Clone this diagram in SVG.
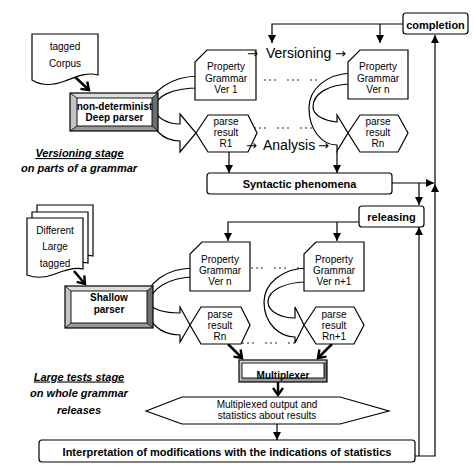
<svg xmlns="http://www.w3.org/2000/svg" width="474" height="466" viewBox="0 0 474 466">
<style>
.n{fill:#fff;stroke:#000;stroke-width:1.2}
.t{font-family:"Liberation Sans",Arial,sans-serif;font-size:10px;text-anchor:middle;fill:#000}
.b{font-weight:bold;font-size:11px}
.bi{font-family:"Liberation Sans",Arial,sans-serif;font-weight:bold;font-style:italic;font-size:11px;text-anchor:middle;fill:#000}
.big{font-family:"Liberation Sans",Arial,sans-serif;font-size:14px;fill:#000}
.ar{font-family:"DejaVu Sans",sans-serif;font-size:13px;fill:#000}
.c{fill:none;stroke:#000;stroke-width:1.2}
.d{fill:none;stroke:#000;stroke-width:1.6;stroke-linecap:round;stroke-dasharray:0 5 0 5 0 13}
.k{fill:none;stroke:#000;stroke-width:2.5}
.lt{fill:#dcdcdc}.ll{fill:#c4c4c4}.lr{fill:#6e6e6e}.lb{fill:#999}
.e{fill:none;stroke:#000;stroke-width:0.8}
</style>
<defs>
<marker id="ah" markerUnits="userSpaceOnUse" markerWidth="9" markerHeight="9" refX="8" refY="4" orient="auto"><path d="M0,0 L8,4 L0,8 z" fill="#000"/></marker>
<marker id="ch" markerUnits="userSpaceOnUse" markerWidth="12" markerHeight="14" refX="8" refY="6" orient="auto"><path d="M1,1 L8,6 L1,11" fill="none" stroke="#000" stroke-width="2.4"/></marker>
<clipPath id="clipDoc"><rect x="20" y="200" width="80" height="69"/></clipPath>
</defs>

<g id="connectors">
  <line class="d" x1="265" y1="80" x2="320" y2="80"/>
  <line class="d" x1="255" y1="128" x2="312" y2="128"/>
  <line class="d" x1="252" y1="268" x2="300" y2="268"/>
  <line class="d" x1="243" y1="343" x2="295" y2="343"/>
  <path class="c" d="M403,24 H272 V43" marker-end="url(#ah)"/>
  <path class="c" d="M380,24 V43" marker-end="url(#ah)"/>
  <path class="c" d="M415,456 H435 V184" marker-end="url(#ah)"/>
  <path class="c" d="M435,184 V35" marker-end="url(#ah)"/>
  <path class="c" d="M392,183 H434" marker-end="url(#ah)"/>
  <path class="c" d="M419,183 V205" marker-end="url(#ah)"/>
  <path class="c" d="M419,456 V227" marker-end="url(#ah)"/>
  <path class="c" d="M359,222 H228 V241" marker-end="url(#ah)"/>
  <path class="c" d="M337,222 V241" marker-end="url(#ah)"/>
  <path class="c" d="M229,152 V173" marker-end="url(#ah)"/>
  <path class="c" d="M337,151 V173" marker-end="url(#ah)"/>
  <path class="k" d="M75,77 L89,90" marker-end="url(#ch)"/>
  <path class="k" d="M74,271 L85,284" marker-end="url(#ch)"/>
  <path class="k" d="M228,344 L242,358" marker-end="url(#ch)"/>
  <path class="k" d="M332,344 L318,358" marker-end="url(#ch)"/>
  <path class="k" d="M278,382 V395" marker-end="url(#ch)"/>
  <path class="c" d="M277,424 V440" marker-end="url(#ah)"/>
  <path class="n" d="M200,76 C170,76 150,92 150,108 C150,128 162,141 180,141 L180,152 L196,133 L180,114 L180,124 C168,124 155,118 155,108 C155,97 170,88 200,88 Z"/>
  <path class="n" d="M352,73 C325,74 309,90 309,108 C309,130 322,145 337,145 L337,151 L348,133 L337,115 L337,122 C326,121 313,116 313,107 C313,94 328,84 352,84 Z"/>
  <path class="n" d="M195,268 C165,268 146,284 146,302 C146,322 160,335 180,335 L180,342 L190,325 L180,307 L180,313 C166,313 150,310 150,302 C150,290 168,277 195,277 Z"/>
  <path class="n" d="M308,268 C282,268 264,284 264,302 C264,324 280,337 295,337 L295,343 L304,325 L295,307 L295,318 C282,318 268,312 268,302 C268,290 285,282 308,282 Z"/>
</g>

<g id="corpus">
  <path class="n" d="M32,34 H98 V75 C88,72 78,76 65,81 C52,86 40,85 32,80 Z"/>
  <text class="t" x="65" y="50">tagged</text>
  <text class="t" x="65" y="67">Corpus</text>
</g>

<g id="deep-parser">
  <rect x="70" y="93" width="88" height="38" fill="#fff"/>
  <polygon class="lt" points="70,93 158,93 152,98 77,98"/>
  <polygon class="ll" points="70,93 77,98 77,126 70,131"/>
  <polygon class="lr" points="158,93 158,131 152,126 152,98"/>
  <polygon class="lb" points="70,131 158,131 152,126 77,126"/>
  <path class="e" d="M70,93 L77,98 M158,93 L152,98 M70,131 L77,126 M158,131 L152,126"/>
  <rect x="77" y="98" width="75" height="28" fill="#fff" stroke="#000" stroke-width="0.9"/>
  <rect x="70" y="93" width="88" height="38" fill="none" stroke="#000" stroke-width="1.2"/>
  <text class="t" font-weight="bold" x="114.5" y="109.5">non-determinist</text>
  <text class="t" font-weight="bold" x="114.5" y="120.5">Deep parser</text>
</g>

<g id="pg-ver1">
  <polygon class="n" points="207,50 256,50 256,100 195,100 195,62"/>
  <text class="t" x="226" y="69.5">Property</text>
  <text class="t" x="226" y="81.5">Grammar</text>
  <text class="t" x="226" y="93">Ver 1</text>
</g>
<g id="pg-vern">
  <polygon class="n" points="360,50 408,50 408,99 348,99 348,62"/>
  <text class="t" x="378" y="69.5">Property</text>
  <text class="t" x="378" y="81.5">Grammar</text>
  <text class="t" x="378" y="93">Ver n</text>
</g>
<g id="pr-r1">
  <polygon class="n" points="196,133 208,115 248,115 257,133 248,152 208,152"/>
  <text class="t" x="226" y="125">parse</text>
  <text class="t" x="226" y="136">result</text>
  <text class="t" x="226" y="147">R1</text>
</g>
<g id="pr-rn">
  <polygon class="n" points="348,133 360,115 398,115 408,133 398,152 360,152"/>
  <text class="t" x="378" y="125">parse</text>
  <text class="t" x="378" y="136">result</text>
  <text class="t" x="378" y="147">Rn</text>
</g>

<g id="stage-labels">
  <text class="ar" x="247" y="58">→</text>
  <text class="big" x="266" y="58">Versioning</text>
  <text class="ar" x="335" y="58">→</text>
  <text class="ar" x="246" y="150">→</text>
  <text class="big" x="263" y="150">Analysis</text>
  <text class="ar" x="318" y="150">→</text>
</g>

<g id="completion">
  <rect class="n" x="403" y="13" width="65" height="21" rx="3"/>
  <text class="t b" x="435.5" y="28.5">completion</text>
</g>
<g id="syntactic">
  <rect class="n" x="207" y="173" width="185" height="21" rx="3"/>
  <text class="t b" x="299.5" y="188">Syntactic phenomena</text>
</g>
<g id="releasing">
  <rect class="n" x="359" y="206" width="65" height="21" rx="3"/>
  <text class="t b" x="391.5" y="221">releasing</text>
</g>

<g id="labels-versioning">
  <text class="bi" x="79.5" y="157" text-decoration="underline">Versioning stage</text>
  <text class="bi" x="79" y="172">on parts of a grammar</text>
</g>

<g id="large-corpora">
  <path class="n" d="M37,205 H93 V256 C85,254 75,257 65,261 C55,265 45,265 37,262 Z"/>
  <path class="n" d="M32,212 H88 V263 C80,261 70,264 60,268 C50,272 40,272 32,269 Z"/>
  <path class="n" d="M27,218 H83 V269 C75,267 65,270 55,274 C45,278 35,278 27,275 Z"/>
  <text class="t" x="55" y="233.5">Different</text>
  <text class="t" x="55" y="250">Large</text>
  <text class="t" x="55" y="266.5" clip-path="url(#clipDoc)">tagged</text>
</g>

<g id="shallow-parser">
  <rect x="65" y="286" width="88" height="42" fill="#fff"/>
  <polygon class="lt" points="65,286 153,286 147,291 71,291"/>
  <polygon class="ll" points="65,286 71,291 71,323 65,328"/>
  <polygon class="lr" points="153,286 153,328 147,323 147,291"/>
  <polygon class="lb" points="65,328 153,328 147,323 71,323"/>
  <path class="e" d="M65,286 L71,291 M153,286 L147,291 M65,328 L71,323 M153,328 L147,323"/>
  <rect x="71" y="291" width="76" height="32" fill="#fff" stroke="#000" stroke-width="0.9"/>
  <rect x="65" y="286" width="88" height="42" fill="none" stroke="#000" stroke-width="1.2"/>
  <text class="t" font-weight="bold" x="109" y="300.5">Shallow</text>
  <text class="t" font-weight="bold" x="109" y="312.5">parser</text>
</g>

<g id="pg-vern-low">
  <polygon class="n" points="202,242 250,242 250,291 190,291 190,254"/>
  <text class="t" x="220" y="262.5">Property</text>
  <text class="t" x="220" y="274">Grammar</text>
  <text class="t" x="220" y="285">Ver n</text>
</g>
<g id="pg-vern1">
  <polygon class="n" points="316,242 364,242 364,291 304,291 304,254"/>
  <text class="t" x="334" y="262.5">Property</text>
  <text class="t" x="334" y="274">Grammar</text>
  <text class="t" x="334" y="285">Ver n+1</text>
</g>
<g id="pr-rn-low">
  <polygon class="n" points="190,325 201,307 241,307 250,325 241,344 201,344"/>
  <text class="t" x="220" y="317.5">parse</text>
  <text class="t" x="220" y="328.5">result</text>
  <text class="t" x="220" y="339.5">Rn</text>
</g>
<g id="pr-rn1">
  <polygon class="n" points="304,325 316,307 354,307 364,325 354,344 316,344"/>
  <text class="t" x="334" y="317.5">parse</text>
  <text class="t" x="334" y="328.5">result</text>
  <text class="t" x="334" y="339.5">Rn+1</text>
</g>

<g id="multiplexer">
  <rect x="239" y="360" width="88" height="22" fill="#fff"/>
  <polygon class="lt" points="239,360 327,360 324,363 242,363"/>
  <polygon class="ll" points="239,360 242,363 242,378 239,382"/>
  <polygon class="lr" points="327,360 327,382 324,378 324,363"/>
  <polygon class="lb" points="239,382 327,382 324,378 242,378"/>
  <rect x="242" y="363" width="82" height="15" fill="#fff" stroke="#000" stroke-width="0.9"/>
  <rect x="239" y="360" width="88" height="22" fill="none" stroke="#000" stroke-width="1.2"/>
  <text class="t" font-weight="bold" x="283" y="378.5">Multiplexer</text>
</g>

<g id="labels-large">
  <text class="bi" x="79" y="380.5" text-decoration="underline">Large tests stage</text>
  <text class="bi" x="79" y="397">on whole grammar</text>
  <text class="bi" x="79" y="413.5">releases</text>
</g>

<g id="output">
  <polygon class="n" points="146,411 182,397 340,397 389,411 340,424 182,424"/>
  <text class="t" x="267" y="407.5">Multiplexed output and</text>
  <text class="t" x="267" y="419">statistics about results</text>
</g>

<g id="interpretation">
  <rect class="n" x="39" y="440" width="376" height="22" rx="3"/>
  <text class="t b" x="227" y="455.5">Interpretation of modifications with the indications of statistics</text>
</g>
</svg>
